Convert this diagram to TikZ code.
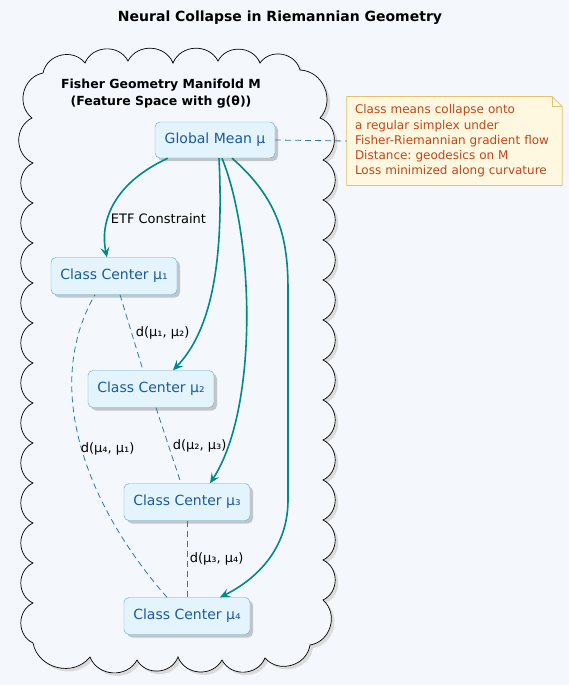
\documentclass[tikz,border=0pt]{standalone}
\usepackage{fontspec}
\setmainfont{DejaVu Sans}
\usetikzlibrary{arrows.meta,shadows,backgrounds}
\definecolor{cbg}{HTML}{F4F8FC}
\definecolor{cfill}{HTML}{E3F4FC}
\definecolor{cborder}{HTML}{62A9CC}
\definecolor{ctext}{HTML}{1D5A9C}
\definecolor{cteal}{HTML}{00888A}
\definecolor{cdash}{HTML}{2A78B6}
\definecolor{cnote}{HTML}{FEF8E1}
\definecolor{cnoteline}{HTML}{E6C16E}
\definecolor{cnotetext}{HTML}{C2461A}
\newcommand\manifoldpath{(43,73) to[puff] (85,63) to[puff] (128,61) to[puff] (173,63) to[puff] (218,61) to[puff] (260,63) to[puff] (300,70) to[puff] (320,118)
  to[puff] (323,160) to[puff] (323,200) to[puff] (323,240) to[puff] (323,280) to[puff] (323,320) to[puff] (323,360) to[puff] (323,400) to[puff] (323,440) to[puff] (323,480) to[puff] (323,520) to[puff] (323,560) to[puff] (323,600) to[puff] (310,645)
  to[puff] (265,658) to[puff] (222,660) to[puff] (178,657) to[puff] (137,660) to[puff] (90,657) to[puff] (33,643)
  to[puff] (33,603) to[puff] (33,563) to[puff] (33,523) to[puff] (33,483) to[puff] (33,443) to[puff] (33,403) to[puff] (33,363) to[puff] (33,323) to[puff] (33,283) to[puff] (33,243) to[puff] (33,203) to[puff] (33,163) to[puff] (32,118) to[puff] (43,73) -- cycle}

\begin{document}
\begin{tikzpicture}[x=1pt,y=-1pt,
    font=\fontsize{14}{17}\selectfont,
    puff/.style={bend left=65,looseness=1.15},
    manifold/.style={draw=black,line width=0.7pt,fill=cbg},
    center/.style={draw=cborder,fill=cfill,text=ctext,rounded corners=5pt,
                   minimum width=126pt,minimum height=37pt,inner sep=0pt,
                   drop shadow={shadow xshift=3pt,shadow yshift=-3pt,fill=black,opacity=.2}},
    memo/.style={text=cnotetext,align=left,text width=199pt,minimum width=215pt,minimum height=82pt,
                 inner sep=8pt,font=\fontsize{12}{15.2}\selectfont\frenchspacing},
    lbl/.style={font=\fontsize{13}{15}\selectfont,text=black,inner sep=2pt},
    flow/.style={-{Stealth[length=10pt,width=9pt,inset=4pt]},draw=cteal,line width=1.6pt},
    geo/.style={draw=cdash,line width=0.8pt,dash pattern=on 6pt off 4pt}]

    \begin{scope}[on background layer]
      \fill[cbg] (0,0) rectangle (569,685);
    \end{scope}
    \useasboundingbox (0,0) rectangle (569,685);

    \node[font=\fontsize{14}{17}\selectfont\bfseries] (title) at (280,18) {Neural Collapse in Riemannian Geometry};

    \fill[black!14,xshift=3pt,yshift=-3pt] \manifoldpath;
    \draw[manifold] \manifoldpath;
    \node[font=\fontsize{12.5}{17}\selectfont\bfseries,align=center] (mtitle) at (161,94) {Fisher Geometry Manifold M\\(Feature Space with g(θ))};

    \node[center,minimum width=120pt,minimum height=36pt] (gm) at (215,140) {Global Mean μ};
    \node[center] (c1) at (114,276) {Class Center μ₁};
    \node[center] (c2) at (151,389) {Class Center μ₂};
    \node[center] (c3) at (187,502) {Class Center μ₃};
    \node[center] (c4) at (187,616) {Class Center μ₄};

    \node[memo] (note) at (454.5,141) {Class means collapse onto\\a regular simplex under\\Fisher-Riemannian gradient flow\\Distance: geodesics on M\\Loss minimized along curvature};
    \begin{scope}[on background layer]
      \fill[black!14,xshift=3pt,yshift=-3pt] (note.north west) -- ([xshift=-10pt]note.north east) -- ([yshift=-10pt]note.north east) -- (note.south east) -- (note.south west) -- cycle;
      \draw[draw=cnoteline,fill=cnote,line width=0.7pt] (note.north west) -- ([xshift=-10pt]note.north east) -- ([yshift=-10pt]note.north east) -- (note.south east) -- (note.south west) -- cycle;
      \draw[draw=cnoteline,line width=0.7pt] ([xshift=-10pt]note.north east) -- ([xshift=-10pt,yshift=-10pt]note.north east) -- ([yshift=-10pt]note.north east);
    \end{scope}
    \draw[geo] (gm.east) -- (note.west);

    \draw[flow] ([xshift=13pt]gm.south west) .. controls (110,185) and (100,225) .. node[lbl,anchor=west,pos=.62] {ETF Constraint} ([xshift=-7pt]c1.north);
    \draw[flow] ([xshift=4pt]gm.south) .. controls (224,260) and (212,330) .. ([xshift=22pt]c2.north);
    \draw[flow] ([xshift=7pt]gm.south) .. controls (255,240) and (258,410) .. ([xshift=23pt]c3.north);
    \draw[flow] ([xshift=17pt]gm.south) .. controls (280,200) and (288,240) .. (288,290) -- (288,500) .. controls (288,550) and (255,580) .. ([xshift=33pt]c4.north);

    \draw[geo] ([xshift=6pt]c1.south) -- node[lbl,anchor=west,xshift=2pt] {d(μ₁, μ₂)} ([xshift=-8pt]c2.north);
    \draw[geo] ([xshift=5pt]c2.south) -- node[lbl,anchor=west,xshift=2pt] {d(μ₂, μ₃)} ([xshift=-6pt]c3.north);
    \draw[geo] ([xshift=0.5pt]c3.south) -- node[lbl,anchor=west] {d(μ₃, μ₄)} ([xshift=0.5pt]c4.north);
    \draw[geo] ([xshift=-20pt]c4.north) .. controls (90,510) and (40,390) .. node[lbl,anchor=west,pos=.5,xshift=-3pt] {d(μ₄, μ₁)} ([xshift=-19pt]c1.south);
\end{tikzpicture}
\end{document}
